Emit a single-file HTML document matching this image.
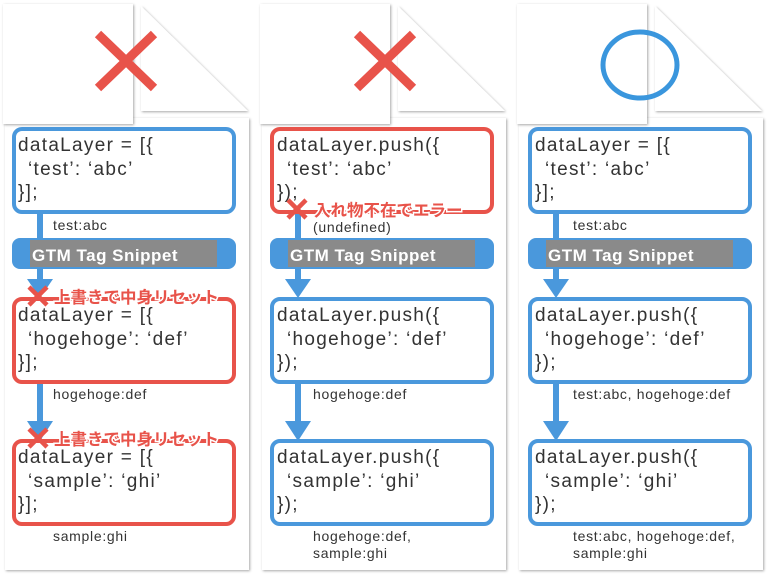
<!DOCTYPE html>
<html><head><meta charset="utf-8"><style>
html,body{margin:0;padding:0;background:#fff;width:768px;height:576px;overflow:hidden}
text{font-family:"Liberation Sans","Noto Sans CJK JP",sans-serif}
.c{font-size:19px;fill:#333;letter-spacing:1.3px}
.l{font-size:14px;fill:#333;letter-spacing:0.7px}
.g{font-size:17px;fill:#fff;font-weight:bold;letter-spacing:0.5px}
.r{font-size:16.5px;fill:#e8534a;font-weight:bold;stroke:#fff;stroke-width:3;paint-order:stroke}
</style></head><body>
<svg width="768" height="576" viewBox="0 0 768 576" xmlns="http://www.w3.org/2000/svg">
<defs>
<filter id="s" x="-5%" y="-5%" width="110%" height="110%"><feDropShadow dx="1" dy="1" stdDeviation="1.2" flood-color="#000" flood-opacity="0.35"/></filter>
<g id="page">
<rect x="5" y="118" width="244" height="452" fill="#fff" filter="url(#s)"/>
<rect x="3" y="4" width="130" height="120" fill="#fff" filter="url(#s)"/>
<polygon points="141,6 141,111 248,111" fill="#fff" filter="url(#s)"/>
</g>
<g id="gtm">
<rect x="12" y="238" width="224" height="31" rx="8" fill="#4a98dc"/>
<rect x="30" y="240" width="187" height="27" fill="#8a8a8a"/>
<text x="32" y="261" class="g">GTM Tag Snippet</text>
</g>
<g id="ar1"><rect x="37" y="213" width="6" height="68" fill="#4a98dc"/><polygon points="27,279 53,279 40,298" fill="#4a98dc"/></g>
<g id="ar2"><rect x="37" y="383" width="6" height="40" fill="#4a98dc"/><polygon points="27,421 53,421 40,441" fill="#4a98dc"/></g>
<g id="xs"><path d="M-9,-9 L9,9 M9,-9 L-9,9" stroke="#e8534a" stroke-width="4.5"/></g>
</defs>

<use href="#page"/>
<use href="#page" x="257"/>
<use href="#page" x="514"/>

<path d="M98,34 L154,88 M154,34 L98,88" stroke="#e8534a" stroke-width="9"/>
<path d="M357,34 L413,88 M413,34 L357,88" stroke="#e8534a" stroke-width="9"/>
<ellipse cx="640" cy="65" rx="37" ry="33" fill="none" stroke="#3a96dd" stroke-width="5"/>

<!-- panel 1 -->
<use href="#ar1"/>
<use href="#gtm"/>
<use href="#ar2"/>
<rect x="14" y="129" width="220" height="83" rx="8" fill="#fff" stroke="#4a98dc" stroke-width="4"/>
<text x="18" y="151" class="c">dataLayer = [{</text>
<text x="28" y="175" class="c">‘test’: ‘abc’</text>
<text x="18" y="198" class="c">}];</text>
<text x="53" y="230" class="l">test:abc</text>
<rect x="14" y="299" width="220" height="83" rx="8" fill="#fff" stroke="#e8534a" stroke-width="4"/>
<text x="18" y="321" class="c">dataLayer = [{</text>
<text x="28" y="345" class="c">‘hogehoge’: ‘def’</text>
<text x="18" y="368" class="c">}];</text>
<text x="53" y="399" class="l">hogehoge:def</text>
<rect x="14" y="441" width="220" height="83" rx="8" fill="#fff" stroke="#e8534a" stroke-width="4"/>
<text x="18" y="463" class="c">dataLayer = [{</text>
<text x="28" y="487" class="c">‘sample’: ‘ghi’</text>
<text x="18" y="510" class="c">}];</text>
<text x="53" y="541" class="l">sample:ghi</text>
<text x="54" y="303" class="r">上書きで中身リセット</text>
<use href="#xs" x="38" y="296"/>
<text x="54" y="445" class="r">上書きで中身リセット</text>
<use href="#xs" x="38" y="438"/>

<!-- panel 2 -->
<use href="#ar1" x="258"/>
<use href="#gtm" x="258"/>
<use href="#ar2" x="258"/>
<rect x="272" y="129" width="220" height="83" rx="8" fill="#fff" stroke="#e8534a" stroke-width="4"/>
<text x="277" y="151" class="c">dataLayer.push({</text>
<text x="287" y="175" class="c">‘test’: ‘abc’</text>
<text x="277" y="198" class="c">});</text>
<text x="314" y="216" class="r">入れ物不在でエラー</text>
<use href="#xs" x="297" y="209"/>
<text x="313" y="232" class="l">(undefined)</text>
<rect x="272" y="299" width="220" height="83" rx="8" fill="#fff" stroke="#4a98dc" stroke-width="4"/>
<text x="277" y="321" class="c">dataLayer.push({</text>
<text x="287" y="345" class="c">‘hogehoge’: ‘def’</text>
<text x="277" y="368" class="c">});</text>
<text x="313" y="399" class="l">hogehoge:def</text>
<rect x="272" y="441" width="220" height="83" rx="8" fill="#fff" stroke="#4a98dc" stroke-width="4"/>
<text x="277" y="463" class="c">dataLayer.push({</text>
<text x="287" y="487" class="c">‘sample’: ‘ghi’</text>
<text x="277" y="510" class="c">});</text>
<text x="313" y="541" class="l">hogehoge:def,</text>
<text x="313" y="558" class="l">sample:ghi</text>

<!-- panel 3 -->
<use href="#ar1" x="516"/>
<use href="#gtm" x="516"/>
<use href="#ar2" x="516"/>
<rect x="530" y="129" width="220" height="83" rx="8" fill="#fff" stroke="#4a98dc" stroke-width="4"/>
<text x="535" y="151" class="c">dataLayer = [{</text>
<text x="545" y="175" class="c">‘test’: ‘abc’</text>
<text x="535" y="198" class="c">}];</text>
<text x="573" y="230" class="l">test:abc</text>
<rect x="530" y="299" width="220" height="83" rx="8" fill="#fff" stroke="#4a98dc" stroke-width="4"/>
<text x="535" y="321" class="c">dataLayer.push({</text>
<text x="545" y="345" class="c">‘hogehoge’: ‘def’</text>
<text x="535" y="368" class="c">});</text>
<text x="573" y="399" class="l">test:abc, hogehoge:def</text>
<rect x="530" y="441" width="220" height="83" rx="8" fill="#fff" stroke="#4a98dc" stroke-width="4"/>
<text x="535" y="463" class="c">dataLayer.push({</text>
<text x="545" y="487" class="c">‘sample’: ‘ghi’</text>
<text x="535" y="510" class="c">});</text>
<text x="573" y="541" class="l">test:abc, hogehoge:def,</text>
<text x="573" y="558" class="l">sample:ghi</text>
</svg>
</body></html>
